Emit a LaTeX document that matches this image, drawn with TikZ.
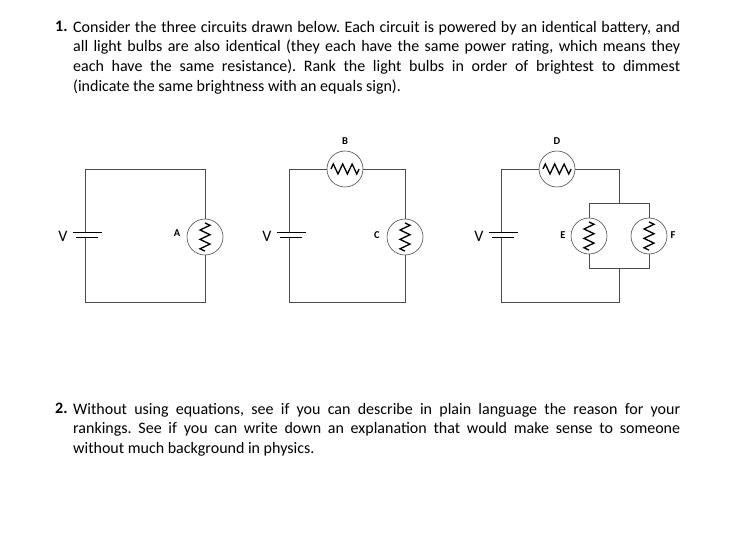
\documentclass[tikz,border=0pt]{standalone}
\usepackage{fontspec}
\setmainfont{Carlito}
\begin{document}
\frenchspacing
\begin{tikzpicture}[x=1pt,y=-1pt,
  wire/.style={draw=black!70,line width=0.8pt},
  bulb/.style={circle,draw=black!70,line width=0.6pt,fill=white,minimum size=36pt,inner sep=0pt},
  lab/.style={font=\bfseries\fontsize{10.5}{12}\selectfont},
  txt/.style={anchor=north west,text width=607pt,align=justify,inner sep=0pt,font=\fontsize{16}{19.6}\selectfont},
  vl/.style={font=\fontsize{16}{18}\selectfont},
  zz/.style={line width=1.3pt,line join=miter}]
\useasboundingbox (0,0) rectangle (732,537);
\newcommand{\vzig}[2]{\draw[zz] (#1,#2-14) -- ++(5,2.3) -- ++(-10,4.7) -- ++(10,4.7) -- ++(-10,4.7) -- ++(10,4.7) -- ++(-10,4.7) -- ++(5,2.3);}
\newcommand{\hzig}[2]{\draw[zz] (#1-14,#2) -- ++(2.3,-5) -- ++(4.7,10) -- ++(4.7,-10) -- ++(4.7,10) -- ++(4.7,-10) -- ++(4.7,10) -- ++(2.3,-5);}
\node[anchor=north west,inner sep=0pt,font=\bfseries\fontsize{16}{19.6}\selectfont] (n1) at (55,21) {1.};
\node[txt] (q1) at (73,21)
 {Consider the three circuits drawn below. Each circuit is powered by an identical battery, and\linebreak all light bulbs are also identical (they each have the same power rating, which means they\linebreak each have the same resistance). Rank the light bulbs in order of brightest to dimmest\linebreak (indicate the same brightness with an equals sign).};
\node[anchor=north west,inner sep=0pt,font=\bfseries\fontsize{16}{19.6}\selectfont] (n2) at (55,403) {2.};
\node[txt] (q2) at (73,403)
 {Without using equations, see if you can describe in plain language the reason for your\linebreak rankings. See if you can write down an explanation that would make sense to someone\linebreak without much background in physics.};
% circuit 1
\draw[wire] (85,233) -- (85,169) -- (205,169) -- (205,302) -- (85,302) -- (85,238);
\draw[line width=1pt] (73,233) -- (102,233) (76,238) -- (98,238);
\node[bulb] (A) at (205,237) {}; \vzig{205}{237}
\node[vl] (v1) at (63,236) {V};
\node[lab] (la) at (177,233) {A};
% circuit 2
\draw[wire] (289,233) -- (289,169) -- (405,169) -- (405,302) -- (289,302) -- (289,238);
\draw[line width=1pt] (277,233) -- (306,233) (280,238) -- (302,238);
\node[bulb] (B) at (345,169) {}; \hzig{345}{169}
\node[bulb] (C) at (405,237) {}; \vzig{405}{237}
\node[vl] (v2) at (267,236) {V};
\node[lab] (lb) at (345,141) {B};
\node[lab] (lc) at (377,235) {C};
% circuit 3
\draw[wire] (501,233) -- (501,169) -- (619,169) -- (619,203) (619,268) -- (619,302) -- (501,302) -- (501,238);
\draw[wire] (589,203) rectangle (649,268);
\draw[line width=1pt] (489,233) -- (518,233) (492,238) -- (514,238);
\node[bulb] (D) at (557,169) {}; \hzig{557}{169}
\node[bulb] (E) at (589,236) {}; \vzig{589}{236}
\node[bulb] (F) at (649,236) {}; \vzig{649}{236}
\node[vl] (v3) at (479,236) {V};
\node[lab] (ld) at (557,141) {D};
\node[lab] (le) at (563,235) {E};
\node[lab] (lf) at (673,235) {F};
\end{tikzpicture}
\end{document}
